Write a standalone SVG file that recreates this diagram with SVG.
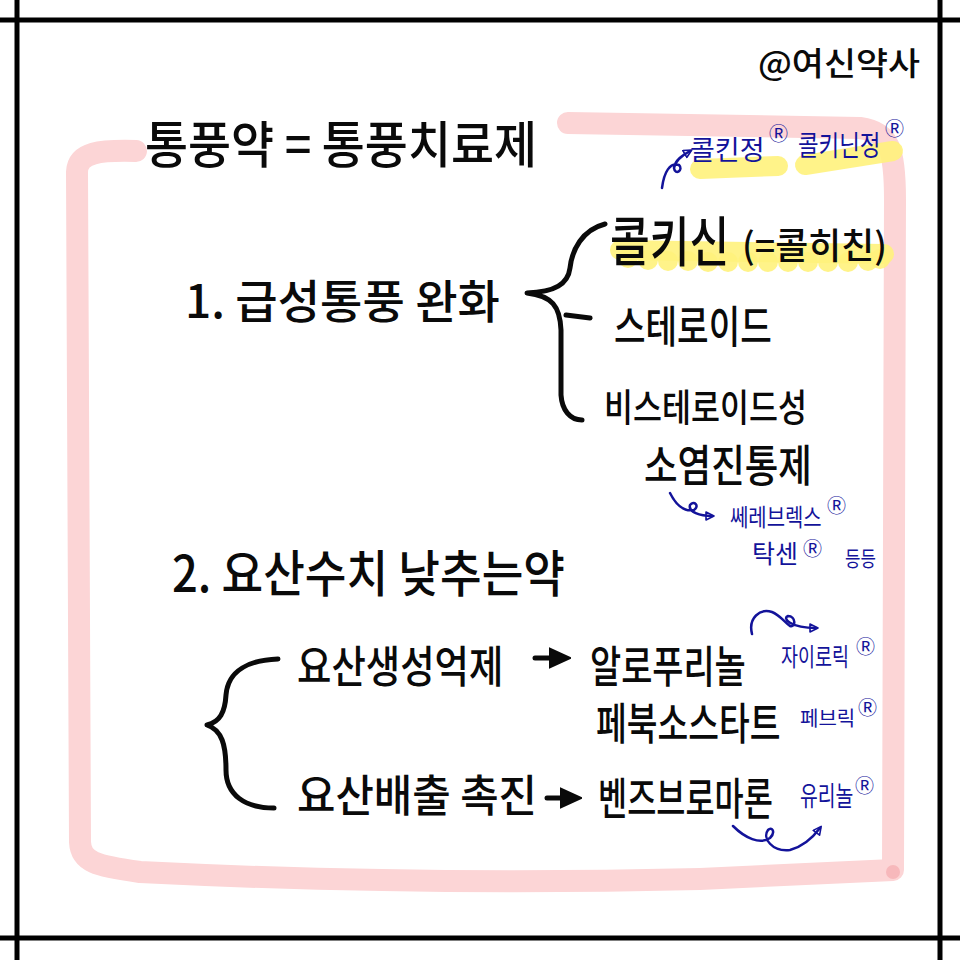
<svg xmlns="http://www.w3.org/2000/svg" width="960" height="960" viewBox="0 0 960 960">
  <defs>
    <style>
      .blk { font-family: "Noto Sans CJK KR", "Noto Sans", sans-serif; font-weight: 500; fill: #0a0a0a; }
      .blu { font-family: "Noto Sans CJK KR", "Noto Sans", sans-serif; font-weight: 400; fill: #13139a; }
      .reg { font-family: "Noto Sans CJK KR", "Noto Sans", sans-serif; font-weight: 400; fill: #13139a; font-size: 19px; }
      .frame { stroke: #000; stroke-width: 5; fill: none; }
      .pink { stroke: #fcd5d6; stroke-width: 22; fill: none; stroke-linecap: round; stroke-linejoin: round; }
      .hl { stroke: #fff27c; stroke-opacity: 0.9; fill: none; stroke-linecap: round; }
      .brace { stroke: #0a0a0a; stroke-width: 5; fill: none; stroke-linecap: round; stroke-linejoin: round; }
      .barrow { stroke: #13139a; stroke-width: 2.5; fill: none; stroke-linecap: round; }
      .karrow { stroke: #0a0a0a; stroke-width: 5; fill: none; stroke-linecap: round; }
    </style>
    <marker id="blueHead" viewBox="0 0 10 10" refX="7" refY="5" markerWidth="4" markerHeight="4" orient="auto" markerUnits="strokeWidth">
      <path d="M1 1 L9 5 L1 9 Z" fill="none" stroke="#13139a" stroke-width="1.6" stroke-linejoin="round"/>
    </marker>
    <marker id="blackHead" viewBox="0 0 10 10" refX="1" refY="5" markerWidth="4.4" markerHeight="4.4" orient="auto" markerUnits="strokeWidth">
      <path d="M0 0.5 L10 5 L0 9.5 Z" fill="#0a0a0a" stroke="#0a0a0a" stroke-width="0.8" stroke-linejoin="round"/>
    </marker>
  </defs>

  <rect width="960" height="960" fill="#ffffff"/>

  <!-- page frame lines -->
  <line class="frame" x1="0" y1="20" x2="960" y2="20"/>
  <line class="frame" x1="0" y1="938" x2="960" y2="938"/>
  <line class="frame" x1="17" y1="0" x2="17" y2="960"/>
  <line class="frame" x1="940" y1="0" x2="940" y2="960"/>

  <!-- pink hand-drawn box -->
  <path class="pink" d="M 136 151 C 100 150 78 152 77 172 L 80 842 C 81 862 96 866 140 872 C 300 880 500 884 700 879 L 893 870 L 895 200 C 895 150 890 132 860 128 L 568 123"/>
  <circle cx="893" cy="872" r="7" fill="#f7b8bb"/>

  <!-- yellow highlights -->
  <path class="hl" stroke-width="20" d="M 700 169 L 778 166"/>
  <path class="hl" stroke-width="20" d="M 805 165 L 893 151"/>
  <path class="hl" stroke-width="20" d="M 620 250 L 884 254"/>
  <g fill="#fff27c" fill-opacity="0.9">
    <circle cx="628" cy="258" r="10"/><circle cx="648" cy="260" r="10"/><circle cx="668" cy="261" r="10"/>
    <circle cx="688" cy="261" r="10"/><circle cx="708" cy="262" r="10"/><circle cx="728" cy="262" r="10"/>
    <circle cx="748" cy="262" r="10"/><circle cx="768" cy="262" r="10"/><circle cx="788" cy="262" r="10"/>
    <circle cx="808" cy="262" r="10"/><circle cx="828" cy="262" r="10"/><circle cx="848" cy="262" r="10"/>
    <circle cx="868" cy="261" r="10"/><circle cx="880" cy="259" r="10"/>
  </g>

  <!-- author tag -->
  <g id="author">
    <text class="blk" x="758" y="75" font-size="32" font-weight="900" textLength="162" lengthAdjust="spacingAndGlyphs">@여신약사</text>
  </g>

  <!-- title -->
  <g id="title">
    <text class="blk" x="145" y="163" font-size="50" textLength="392" lengthAdjust="spacingAndGlyphs">통풍약 = 통풍치료제</text>
  </g>

  <!-- section 1 -->
  <g id="sec1">
    <text class="blk" x="185" y="318" font-size="46" textLength="315" lengthAdjust="spacingAndGlyphs">1. 급성통풍 완화</text>
  </g>
  <g id="colchicine">
    <text class="blk" transform="translate(610 262) scale(0.8 1)" font-size="54">콜키신</text>
    <text class="blk" x="742" y="259" font-size="36" textLength="145" lengthAdjust="spacingAndGlyphs">(=콜히친)</text>
  </g>
  <g id="colchicine-brands">
    <text class="blu" x="690" y="160" font-size="27">콜킨정</text>
    <text class="reg" x="769" y="141">Ⓡ</text>
    <text class="blu" transform="translate(798 156) scale(0.8 1)" font-size="28">콜키닌정</text>
    <text class="reg" x="885" y="136">Ⓡ</text>
  </g>
  <g id="steroid">
    <text class="blk" transform="translate(614 343) scale(0.78 1)" font-size="44">스테로이드</text>
  </g>
  <g id="nsaid">
    <text class="blk" transform="translate(604 421) scale(0.83 1)" font-size="38">비스테로이드성</text>
    <text class="blk" transform="translate(644 482) scale(0.83 1)" font-size="44">소염진통제</text>
  </g>
  <g id="nsaid-brands">
    <text class="blu" transform="translate(730 526) scale(0.83 1)" font-size="24">쎄레브렉스</text>
    <text class="reg" x="827" y="513" font-size="18">Ⓡ</text>
    <text class="blu" x="752" y="563" font-size="25">탁센</text>
    <text class="reg" x="803" y="556" font-size="18">Ⓡ</text>
    <text class="blu" transform="translate(845 566) scale(0.8 1)" font-size="21">등등</text>
  </g>

  <!-- section 2 -->
  <g id="sec2">
    <text class="blk" x="172" y="592" font-size="50" textLength="393" lengthAdjust="spacingAndGlyphs">2. 요산수치 낮추는약</text>
  </g>
  <g id="inhibit">
    <text class="blk" transform="translate(297 683) scale(0.85 1)" font-size="44">요산생성억제</text>
  </g>
  <g id="allopurinol">
    <text class="blk" transform="translate(590 683) scale(0.77 1)" font-size="44">알로푸리놀</text>
  </g>
  <g id="febuxostat">
    <text class="blk" transform="translate(596 740) scale(0.76 1)" font-size="44">페북소스타트</text>
  </g>
  <g id="excrete">
    <text class="blk" x="297" y="812" font-size="44" textLength="240" lengthAdjust="spacingAndGlyphs">요산배출 촉진</text>
  </g>
  <g id="benzbromarone">
    <text class="blk" transform="translate(598 815) scale(0.72 1)" font-size="44">벤즈브로마론</text>
  </g>
  <g id="sec2-brands">
    <text class="blu" transform="translate(781 666) scale(0.74 1)" font-size="25">자이로릭</text>
    <text class="reg" x="856" y="654" font-size="18">Ⓡ</text>
    <text class="blu" x="800" y="726" font-size="20">페브릭</text>
    <text class="reg" x="858" y="715" font-size="18">Ⓡ</text>
    <text class="blu" transform="translate(800 806) scale(0.716 1)" font-size="27">유리놀</text>
    <text class="reg" x="855" y="793" font-size="18">Ⓡ</text>
  </g>

  <!-- connectors -->
  <g id="connectors">
    <path class="brace" d="M 605 224 C 582 230 572 250 570 268 C 568 284 555 292 527 293 C 552 296 560 306 561 330 L 561 395 C 562 410 570 420 582 420"/>
    <path class="brace" d="M 566 315 L 590 318"/>
    <path class="brace" d="M 278 659 C 250 660 228 670 226 695 C 225 712 220 722 207 725 C 222 730 226 745 226 770 C 226 795 245 808 274 808"/>
    <path class="karrow" marker-end="url(#blackHead)" d="M 535 658 L 551 658"/>
    <path class="karrow" marker-end="url(#blackHead)" d="M 547 798 L 562 798"/>
    <path class="barrow" marker-end="url(#blueHead)" d="M 662 188 C 664 172 670 162 679 165 C 684 170 675 176 674 168 C 675 160 683 155 690 151"/>
    <path class="barrow" marker-end="url(#blueHead)" d="M 670 493 C 676 505 684 512 694 510 C 700 506 694 500 690 505 C 688 512 700 516 712 516"/>
    <path class="barrow" marker-end="url(#blueHead)" d="M 752 634 C 748 618 760 608 772 612 C 780 615 784 622 790 626 C 796 628 796 616 788 616 C 782 618 790 628 816 628"/>
    <path class="barrow" marker-end="url(#blueHead)" d="M 733 826 C 745 838 760 845 770 838 C 776 832 772 826 768 830 C 762 838 772 852 790 850 C 805 846 814 836 820 828"/>
  </g>
</svg>
